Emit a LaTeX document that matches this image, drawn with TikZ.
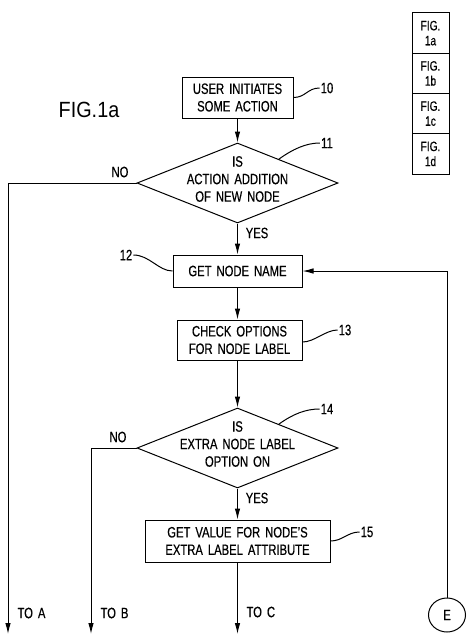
\documentclass[tikz,border=0pt]{standalone}
\usepackage{fontspec}
\setmainfont{Liberation Sans}[FakeStretch=0.75,FakeBold=0.5,WordSpace=1.6]
\newfontfamily\titlefont{Liberation Sans}[FakeStretch=0.9]
\usetikzlibrary{arrows.meta,shapes.geometric,calc}
\begin{document}
\begin{tikzpicture}[x=1pt,y=-1pt,
  every node/.style={font=\fontsize{15}{17.5}\selectfont},
  line/.style={line width=1pt},
  arr/.style={line width=1pt,-{Latex[length=11pt,width=5.5pt]}},
  stepbox/.style={draw,line width=1pt,inner sep=0pt,align=center},
  dia/.style={draw,diamond,line width=1pt,inner sep=0pt,minimum width=201pt,minimum height=80pt},
  figbox/.style={draw,line width=1pt,minimum width=37pt,minimum height=40.25pt,inner sep=0pt,align=center,font=\fontsize{13.5}{15}\selectfont},
  lbl/.style={inner sep=1pt}]
\useasboundingbox (0,0) rectangle (474,641);
% side figure boxes
\node[figbox] (fa) at (430.5,33.1) {FIG.\\1a};
\node[figbox] (fb) at (430.5,73.4) {FIG.\\1b};
\node[figbox] (fc) at (430.5,113.6) {FIG.\\1c};
\node[figbox] (fd) at (430.5,153.9) {FIG.\\1d};
% title
\node[font=\fontsize{22}{24}\titlefont] (title) at (89,110) {FIG.1a};
% boxes
\node[stepbox,minimum width=111pt,minimum height=41pt] (b10) at (237.5,97.5) {USER INITIATES\\SOME ACTION};
\node[dia] (d11) at (237.5,183) {};
\node[align=center] (t11) at (237.5,179) {IS\\ACTION ADDITION\\OF NEW NODE};
\node[stepbox,minimum width=129pt,minimum height=32pt] (b12) at (237.5,271) {GET NODE NAME};
\node[stepbox,minimum width=125pt,minimum height=40pt] (b13) at (239.5,340) {CHECK OPTIONS\\FOR NODE LABEL};
\node[dia] (d14) at (237.5,448) {};
\node[align=center] (t14) at (237.5,444) {IS\\EXTRA NODE LABEL\\OPTION ON};
\node[stepbox,minimum width=185pt,minimum height=42pt] (b15) at (237.5,541) {GET VALUE FOR NODE'S\\EXTRA LABEL ATTRIBUTE};
\node[draw,ellipse,line width=1pt,minimum width=37pt,minimum height=34pt,inner sep=0pt] (E) at (447,615) {E};
% reference labels
\node[lbl] (l10) at (327,88) {10};
\node[lbl] (l11) at (327,143) {11};
\node[lbl] (l12) at (126,255) {12};
\node[lbl] (l13) at (345,330) {13};
\node[lbl] (l14) at (327,409) {14};
\node[lbl] (l15) at (367,532) {15};
\coordinate (p11) at ($(d11.north)!0.41!(d11.east)$);
\coordinate (p14) at ($(d14.north)!0.41!(d14.east)$);
\draw[line] (b10.east) .. controls +(12,0) and +(-12,0) .. (l10.west);
\draw[line] (p11) .. controls +(14,-10) and +(-14,0) .. (l11.west);
\draw[line] (l12.east) .. controls +(16,0) and +(-14,0) .. (b12.west);
\draw[line] ($(b13.east)+(0,2)$) .. controls +(12,0) and +(-12,0) .. (l13.west);
\draw[line] (p14) .. controls +(14,-10) and +(-14,0) .. (l14.west);
\draw[line] (b15.east) .. controls +(12,0) and +(-12,0) .. (l15.west);
% main flow
\draw[arr] (b10.south) -- (d11.north);
\draw[arr] (d11.south) -- (b12.north);
\draw[arr] (b12.south) -- (b12.south |- b13.north);
\draw[arr] (b13.south -| d14.north) -- (d14.north);
\draw[arr] (d14.south) -- (b15.north);
\coordinate (cA) at (8,183);
\coordinate (eA) at (8,634);
\coordinate (cB) at (91,448);
\coordinate (eB) at (91,634);
\coordinate (eC) at (237.5,634);
\draw[arr] (d11.west) -- (cA) -- (eA);
\draw[arr] (d14.west) -- (cB) -- (eB);
\draw[arr] (b15.south) -- (eC);
\draw[arr] (E.north) |- (b12.east);
% branch labels
\node (no1) at (120,172) {NO};
\node (yes1) at (257,233) {YES};
\node (no2) at (118,437) {NO};
\node (yes2) at (257,498) {YES};
\node[anchor=west] (toA) at (14,613) {TO A};
\node[anchor=west] (toB) at (97,613) {TO B};
\node[anchor=west] (toC) at (243,612) {TO C};
\end{tikzpicture}
\end{document}
